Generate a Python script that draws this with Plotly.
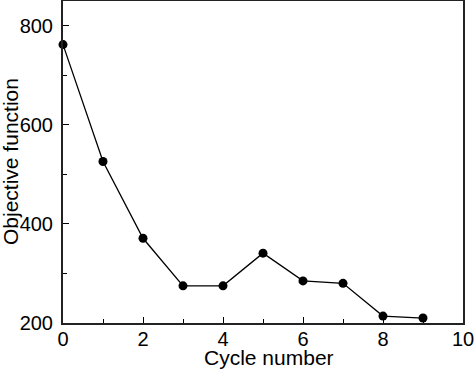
import plotly.graph_objects as go

cycles = [0, 1, 2, 3, 4, 5, 6, 7, 8, 9]
objective = [762, 526, 371, 275, 275, 341, 285, 280, 214, 210]

x_ticks = [0, 2, 4, 6, 8, 10]
y_ticks = [200, 400, 600, 800]

fig = go.Figure()
fig.add_trace(go.Scatter(
    x=cycles, y=objective, mode="lines+markers",
    line=dict(color="black", width=1.3),
    marker=dict(color="black", size=9),
    showlegend=False, cliponaxis=False,
))

tick_font = dict(family="Liberation Sans, Arial, sans-serif", color="black", size=20)
title_font = dict(family="Liberation Sans, Arial, sans-serif", color="black", size=21)
fig.update_layout(
    width=474, height=370,
    margin=dict(l=63, r=11, t=1, b=47),
    plot_bgcolor="white", paper_bgcolor="white",
    font=tick_font,
)
fig.update_xaxes(
    range=[0, 10], tickvals=x_ticks, ticktext=[str(v) for v in x_ticks],
    ticks="inside", ticklen=6, tickwidth=1.2, tickcolor="black",
    minor=dict(tickvals=[1, 3, 5, 7, 9], ticks="inside", ticklen=4, tickcolor="black", tickwidth=1.2),
    showline=True, linecolor="#222", linewidth=2, mirror=True, showgrid=False, zeroline=False,
    tickfont=tick_font, ticklabelstandoff=-3, ticklabeloverflow="allow",
    automargin=False,
)
fig.update_yaxes(
    range=[200, 850], tickvals=y_ticks, ticktext=[str(v) for v in y_ticks],
    ticks="inside", ticklen=6, tickwidth=1.2, tickcolor="black",
    minor=dict(tickvals=[300, 500, 700], ticks="inside", ticklen=4, tickcolor="black", tickwidth=1.2),
    showline=True, linecolor="#222", linewidth=2, mirror=True, showgrid=False, zeroline=False,
    tickfont=tick_font, ticklabelstandoff=4, ticklabeloverflow="allow",
    automargin=False,
)
fig.add_annotation(text="Cycle number", xref="paper", yref="paper", x=0.515, y=0,
                   yshift=-34, xanchor="center", yanchor="middle", showarrow=False, font=title_font)
fig.add_annotation(text="Objective function", xref="paper", yref="paper", x=0, y=0.5,
                   xshift=-53, xanchor="center", yanchor="middle", textangle=-90,
                   showarrow=False, font=title_font)
fig.write_html("out.html", config={"displayModeBar": False},
               post_script="document.body.style.margin='0';")
